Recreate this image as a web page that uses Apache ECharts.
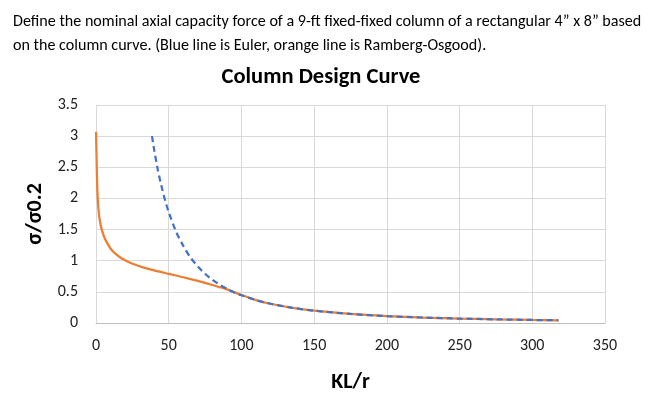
<!DOCTYPE html>
<html>
<head>
<meta charset="utf-8">
<script src="https://cdn.jsdelivr.net/npm/echarts@6/dist/echarts.min.js"></script>
<style>
  html, body { margin: 0; padding: 0; background: #fff; }
  #chart { width: 667px; height: 398px; }
</style>
</head>
<body>
<div id="chart"></div>
<script>
// slenderness KL/r and sigma/sigma0.2
const rambergKL = [0, 0.3, 0.6, 1, 1.6, 2.4, 3.3, 4.5, 6, 8, 10.5, 13.5, 17.5, 22, 27, 33, 40, 50, 60, 70, 80, 90, 100,
  110, 120, 135, 150, 175, 200, 225, 250, 275, 300, 318];
const rambergVal = [3.07, 2.75, 2.4, 2.1, 1.85, 1.68, 1.56, 1.46, 1.36, 1.27, 1.18, 1.11, 1.04, 0.985, 0.935, 0.89, 0.845, 0.79, 0.735, 0.675, 0.61, 0.54, 0.45,
  0.368, 0.309, 0.244, 0.198, 0.145, 0.111, 0.088, 0.071, 0.059, 0.049, 0.044];

const eulerKL = [38.5, 40, 42.5, 45, 47.5, 50, 55, 60, 65, 70, 75, 80, 85, 90, 95, 100,
  110, 120, 135, 150, 175, 200, 225, 250, 275, 300, 318];
const eulerVal = [3.0, 2.78, 2.46, 2.2, 1.97, 1.78, 1.47, 1.24, 1.05, 0.91, 0.79, 0.695, 0.615, 0.55, 0.49, 0.445,
  0.368, 0.309, 0.244, 0.198, 0.145, 0.111, 0.088, 0.071, 0.059, 0.049, 0.044];

const questionText = [
  'Define the nominal axial capacity force of a 9-ft fixed-fixed column of a rectangular 4\u201d x 8\u201d based',
  'on the column curve. (Blue line is Euler, orange line is Ramberg-Osgood).'
];

const font = 'Carlito, "Liberation Sans", "Noto Sans", sans-serif';

const chart = echarts.init(document.getElementById('chart'));

chart.setOption({
  backgroundColor: '#ffffff',
  animation: false,
  title: [
    {
      text: questionText[0],
      left: 8, top: 9,
      textStyle: {fontFamily: font, fontSize: 16.1, fontWeight: 'normal', color: '#000'}
    },
    {
      text: questionText[1],
      left: 8, top: 33,
      textStyle: {fontFamily: font, fontSize: 16.1, fontWeight: 'normal', color: '#000'}
    },
    {
      text: 'Column Design Curve',
      left: 316, top: 61, textAlign: 'center',
      textStyle: {fontFamily: font, fontSize: 22.5, fontWeight: 'bold', color: '#000'}
    }
  ],
  grid: {left: 96, right: 62, top: 105, bottom: 74},
  xAxis: {
    type: 'value',
    min: 0, max: 350, interval: 50,
    name: 'KL/r',
    nameLocation: 'middle',
    nameGap: 48,
    nameTextStyle: {fontFamily: font, fontSize: 22, fontWeight: 'bold', color: '#000'},
    axisLine: {show: true, lineStyle: {color: '#bfbfbf'}},
    axisTick: {show: false},
    axisLabel: {fontFamily: font, fontSize: 16, color: '#222', margin: 15},
    splitLine: {show: true, lineStyle: {color: '#d9d9d9'}}
  },
  yAxis: {
    type: 'value',
    min: 0, max: 3.5, interval: 0.5,
    name: 'σ/σ0.2',
    nameLocation: 'middle',
    nameGap: 46,
    nameTextStyle: {fontFamily: font, fontSize: 22, fontWeight: 'bold', color: '#000'},
    axisLine: {show: false},
    axisTick: {show: false},
    axisLabel: {fontFamily: font, fontSize: 16, color: '#222', margin: 18},
    splitLine: {show: true, lineStyle: {color: '#d9d9d9'}}
  },
  series: [
    {
      name: 'Ramberg-Osgood',
      type: 'line',
      smooth: 0.3,
      showSymbol: false,
      lineStyle: {color: '#ED7D31', width: 2.25},
      data: rambergKL.map((x, i) => [x, rambergVal[i]])
    },
    {
      name: 'Euler',
      type: 'line',
      smooth: 0.3,
      showSymbol: false,
      lineStyle: {color: '#4472C4', width: 2.25, type: [6, 4]},
      data: eulerKL.map((x, i) => [x, eulerVal[i]])
    }
  ]
});
</script>
</body>
</html>
